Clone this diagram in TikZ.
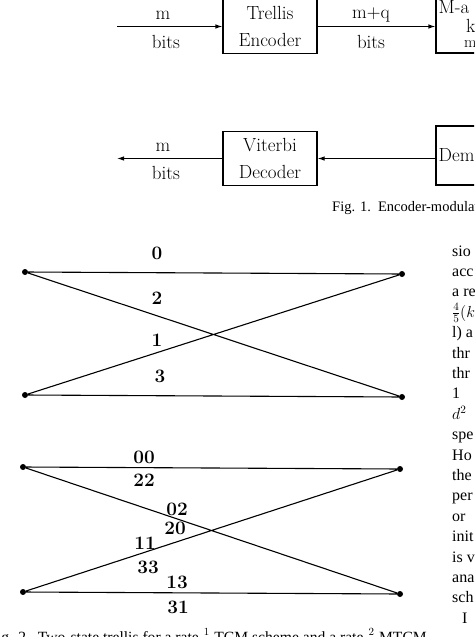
\documentclass[tikz,border=0pt]{standalone}
\usepackage{fix-cm}
\usepackage{fontspec}
\usepackage{tikz}
\usetikzlibrary{positioning,arrows.meta}
\newfontfamily\timesfont{Liberation Serif}
\tikzset{
  blk/.style={draw,line width=1.1pt,minimum width=94pt,minimum height=54pt,inner sep=0pt,align=center,font=\fontsize{19}{27}\selectfont},
  lbl/.style={inner sep=0pt,font=\fontsize{19}{22}\selectfont},
  dig/.style={inner sep=0pt,font=\fontsize{19}{22}\selectfont\bfseries},
  dot/.style={circle,fill,inner sep=0pt,minimum size=6pt},
  wire/.style={line width=1.1pt},
  sig/.style={wire,-{Latex[length=7pt,width=4.5pt]}},
  coltext/.style={inner sep=0pt,anchor=base west,font=\timesfont\fontsize{16}{19}\selectfont},
  figcap/.style={inner sep=0pt,font=\timesfont\fontsize{14.5}{17}\selectfont}
}

\begin{document}
\begin{tikzpicture}[x=1pt,y=-1pt]
  \useasboundingbox (0,0) rectangle (474,637);
  \clip (0,0) rectangle (474,637);
  \node[blk] (enc) at (270,26.5) {Trellis\\Encoder};
  \node[blk,minimum width=130pt,minimum height=86pt] (mod) at (501,10) {};
  \node[blk] (vit) at (270,158.5) {Viterbi\\Decoder};
  \node[blk,minimum width=130pt,minimum height=59pt] (dem) at (501,155.5) {};
  \node[lbl,anchor=west] (modA) at (438.5,7) {M-a};
  \node[lbl,anchor=west] (modB) at (466,26) {k};
  \node[lbl,anchor=west,font=\fontsize{16}{19}\selectfont] (modC) at (464,44) {m};
  \node[lbl,anchor=west] (demA) at (438.5,155) {Dem};
  \coordinate (src) at (117,26.5);
  \coordinate (snk) at (117,158.5);
  \draw[sig] (src) -- (enc.west);
  \draw[sig] (enc.east) -- (enc.east -| mod.west);
  \draw[sig] (dem.west |- vit.east) -- (vit.east);
  \draw[sig] (vit.west) -- (snk);
  \node[lbl] (inM) at (163,15) {m};
  \node[lbl] (inB) at (166,42) {bits};
  \node[lbl] (midM) at (371,15) {m+q};
  \node[lbl] (midB) at (371,42) {bits};
  \node[lbl] (outM) at (163,147) {m};
  \node[lbl] (outB) at (166,173) {bits};
  \node[figcap,anchor=base west] (figA) at (332,211) {Fig. 1.\ \ Encoder-modulator};

  \node[dot] (p1) at (25,272) {};
  \node[dot] (q1) at (402,274) {};
  \node[dot] (r1) at (25,395) {};
  \node[dot] (s1) at (402,397) {};
  \draw[wire] (p1) -- (q1) (r1) -- (s1) (p1) -- (s1) (r1) -- (q1);
  \node[dig] (t0) at (157,253) {0};
  \node[dig] (t2) at (157,298) {2};
  \node[dig] (t1) at (157,340) {1};
  \node[dig] (t3) at (160,376) {3};

  \node[dot] (p2) at (23,467) {};
  \node[dot] (q2) at (400,469) {};
  \node[dot] (r2) at (23,592) {};
  \node[dot] (s2) at (400,594) {};
  \draw[wire] (p2) -- (q2) (r2) -- (s2) (p2) -- (s2) (r2) -- (q2);
  \node[dig] (u00) at (144,457) {00};
  \node[dig] (u22) at (144,480) {22};
  \node[dig] (u02) at (177,509) {02};
  \node[dig] (u20) at (175,528) {20};
  \node[dig] (u11) at (145,543) {11};
  \node[dig] (u33) at (148,567) {33};
  \node[dig] (u13) at (177,582) {13};
  \node[dig] (u31) at (178,607) {31};
  \node[figcap,anchor=base east,font=\timesfont\fontsize{15.6}{18}\selectfont] (figB) at (427,642) {Fig. 2.\ \ Two-state trellis for a rate $\frac{1}{2}$ TCM scheme and a rate $\frac{2}{3}$ MTCM};

  \foreach \t [count=\i from 0] in {sio,acc,a re,$\frac{4}{5}(k$,l) a,thr,thr,1,$d^2$,spe,Ho,the,per,or,init,is v,ana,sch}
    \node[coltext] (col\i) at (452,256+20.4*\i) {\t};
  \node[coltext] (colI) at (462,256+20.4*18) {I};
\end{tikzpicture}
\end{document}
